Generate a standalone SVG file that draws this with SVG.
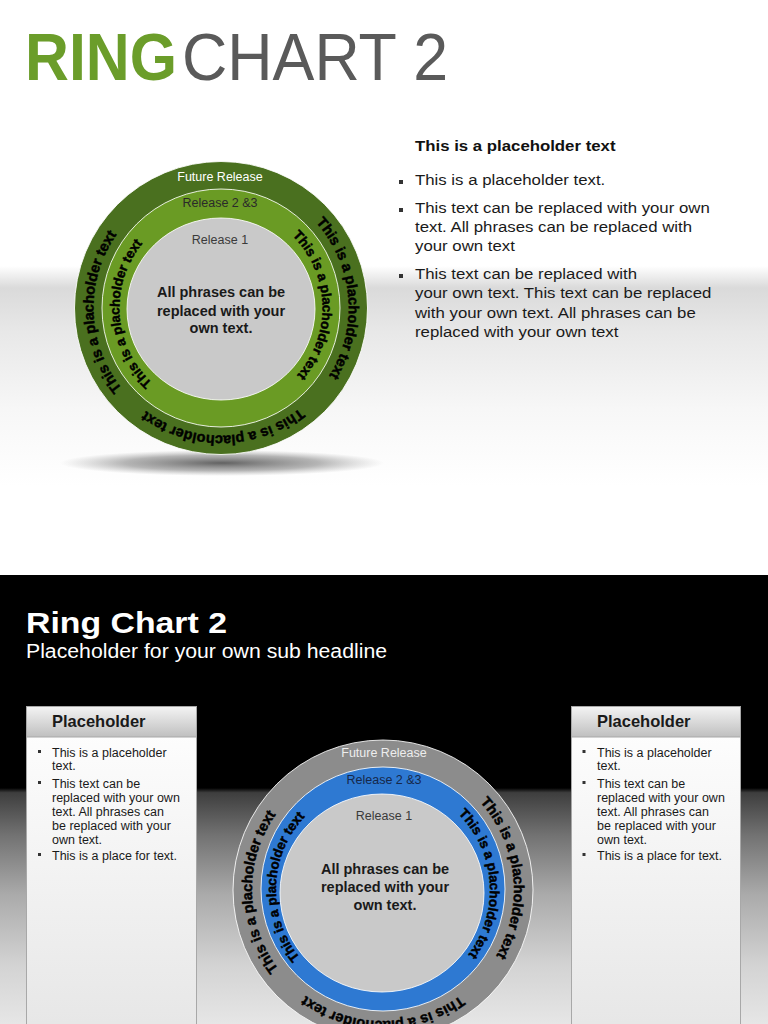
<svg xmlns="http://www.w3.org/2000/svg" width="768" height="1024" viewBox="0 0 768 1024">
<defs>
  <linearGradient id="topBand" x1="0" y1="0" x2="0" y2="1">
    <stop offset="0" stop-color="#ffffff"/>
    <stop offset="0.1" stop-color="#dadada"/>
    <stop offset="0.3" stop-color="#e8e8e8"/>
    <stop offset="0.65" stop-color="#f7f7f7"/>
    <stop offset="1" stop-color="#ffffff"/>
  </linearGradient>
  <linearGradient id="botBand" x1="0" y1="0" x2="0" y2="1">
    <stop offset="0" stop-color="#000000"/>
    <stop offset="0.02" stop-color="#3e3e3e"/>
    <stop offset="0.2" stop-color="#727272"/>
    <stop offset="0.45" stop-color="#aaaaaa"/>
    <stop offset="0.75" stop-color="#d3d3d3"/>
    <stop offset="1" stop-color="#e6e6e6"/>
  </linearGradient>
  <radialGradient id="shadow" cx="0.5" cy="0.5" r="0.5">
    <stop offset="0" stop-color="#505050" stop-opacity="0.9"/>
    <stop offset="0.6" stop-color="#7a7a7a" stop-opacity="0.55"/>
    <stop offset="1" stop-color="#9a9a9a" stop-opacity="0"/>
  </radialGradient>
  <linearGradient id="panelHead" x1="0" y1="0" x2="0" y2="1">
    <stop offset="0" stop-color="#f4f4f4"/>
    <stop offset="1" stop-color="#bfbfbf"/>
  </linearGradient>
  <linearGradient id="panelBody" x1="0" y1="0" x2="0" y2="1">
    <stop offset="0" stop-color="#ffffff"/>
    <stop offset="1" stop-color="#e6e6e6"/>
  </linearGradient>
  <!-- top ring text paths, centre (221,308) -->
  <path id="tOutL" d="M181.6,429.3 A127.5,127.5 0 0 1 173.2,189.8"/>
  <path id="tOutR" d="M254.0,184.8 A127.5,127.5 0 0 1 274.9,423.6"/>
  <path id="tOutB" d="M341.6,349.5 A127.5,127.5 0 0 1 102.0,353.7"/>
  <path id="tMidL" d="M193.0,405.6 A101.5,101.5 0 0 1 179.7,215.3"/>
  <path id="tMidR" d="M252.4,211.5 A101.5,101.5 0 0 1 259.0,402.1"/>
  <!-- bottom ring text paths, centre (383,890) -->
  <path id="bOutL" d="M340.3,1013.9 A131,131 0 0 1 336.1,767.7"/>
  <path id="bOutR" d="M414.7,762.9 A131,131 0 0 1 440.4,1007.7"/>
  <path id="bOutB" d="M506.1,934.8 A131,131 0 0 1 259.9,934.8"/>
  <path id="bMidL" d="M342.9,989.2 A107,107 0 0 1 349.9,788.2"/>
  <path id="bMidR" d="M412.5,787.1 A107,107 0 0 1 426.5,987.7"/>
</defs>
<style>
  text { font-family: "Liberation Sans", Arial, sans-serif; }
  .curveO { font-weight: bold; font-size: 14.5px; fill: #000; stroke: #000; stroke-width: 0.45; }
  .curveM { font-weight: bold; font-size: 13.5px; fill: #000; stroke: #000; stroke-width: 0.45; }
  .lbl { font-size: 12.5px; text-anchor: middle; }
  .centre { font-size: 14.5px; font-weight: bold; fill: #1a1a1a; text-anchor: middle; }
  .body { font-size: 15px; fill: #1a1a1a; }
  .ptext { font-size: 12.5px; fill: #1a1a1a; }
  .phead { font-size: 16.5px; font-weight: bold; fill: #1a1a1a; }
  .edge { fill: none; stroke: #ffffff; stroke-width: 1; stroke-opacity: 0.85; }
</style>

<!-- backgrounds -->
<rect x="0" y="0" width="768" height="575" fill="#ffffff"/>
<rect x="0" y="266" width="768" height="220" fill="url(#topBand)"/>
<rect x="0" y="575" width="768" height="449" fill="#000000"/>
<rect x="0" y="788" width="768" height="236" fill="url(#botBand)"/>

<!-- top title -->
<g id="title-top">
  <text x="25" y="80" font-size="66" font-weight="bold" fill="#6b9d2a" textLength="152" lengthAdjust="spacingAndGlyphs">RING</text>
  <text x="182" y="80" font-size="66" fill="#5a5a5a" textLength="266" lengthAdjust="spacingAndGlyphs">CHART 2</text>
</g>

<!-- top ring -->
<g id="ring-top">
  <ellipse cx="222" cy="463" rx="162" ry="13" fill="url(#shadow)"/>
  <g id="ring-top-outer">
    <circle cx="221" cy="308" r="146.5" fill="#4a701f"/>
    <circle class="edge" cx="221" cy="308" r="146.5" stroke-opacity="0.5"/>
    <text class="lbl" x="220" y="181" fill="#ffffff">Future Release</text>
    <text class="curveO"><textPath href="#tOutL" startOffset="50%" text-anchor="middle">This is a placholder text</textPath></text>
    <text class="curveO"><textPath href="#tOutR" startOffset="50%" text-anchor="middle">This is a placholder text</textPath></text>
    <text class="curveO"><textPath href="#tOutB" startOffset="50%" text-anchor="middle">This is a placholder text</textPath></text>
  </g>
  <g id="ring-top-middle">
    <circle cx="221" cy="308" r="119" fill="#6a9b24"/>
    <circle class="edge" cx="221" cy="308" r="119"/>
    <text class="lbl" x="220" y="207" fill="#2a2a2a">Release 2 &amp;3</text>
    <text class="curveM"><textPath href="#tMidL" startOffset="50%" text-anchor="middle">This is a placholder text</textPath></text>
    <text class="curveM"><textPath href="#tMidR" startOffset="50%" text-anchor="middle">This is a placholder text</textPath></text>
  </g>
  <g id="ring-top-inner">
    <ellipse cx="221" cy="309" rx="94" ry="91" fill="#c9c9c9"/>
    <ellipse class="edge" cx="221" cy="309" rx="94" ry="91"/>
    <text class="lbl" x="220" y="243.5" font-size="12" fill="#3a3a3a">Release 1</text>
    <text class="centre" x="221" y="297">All phrases can be</text>
    <text class="centre" x="221" y="315.5">replaced with your</text>
    <text class="centre" x="221" y="333">own text.</text>
  </g>
</g>

<!-- top right text block -->
<g id="text-top">
  <rect x="399" y="180" width="4" height="4" fill="#333"/>
  <rect x="399" y="208" width="4" height="4" fill="#333"/>
  <rect x="399" y="274" width="4" height="4" fill="#333"/>
  <g transform="translate(415,0) scale(1.12,1)">
    <text x="0" y="151.5" font-size="15" font-weight="bold" fill="#111">This is a placeholder text</text>
    <text class="body" x="0" y="185">This is a placeholder text.</text>
    <text class="body" x="0" y="213">This text can be replaced with your own</text>
    <text class="body" x="0" y="232">text. All phrases can be replaced with</text>
    <text class="body" x="0" y="251">your own text</text>
    <text class="body" x="0" y="279">This text can be replaced with</text>
    <text class="body" x="0" y="298.3">your own text. This text can be replaced</text>
    <text class="body" x="0" y="317.6">with your own text. All phrases can be</text>
    <text class="body" x="0" y="337">replaced with your own text</text>
  </g>
</g>

<!-- bottom title -->
<g id="title-bottom">
  <text x="26" y="633" font-size="30" font-weight="bold" fill="#ffffff" textLength="201" lengthAdjust="spacingAndGlyphs">Ring Chart 2</text>
  <text x="26" y="658" font-size="20" fill="#ffffff" textLength="361" lengthAdjust="spacingAndGlyphs">Placeholder for your own sub headline</text>
</g>

<!-- left panel -->
<g id="panel-left">
  <rect x="26.5" y="706.5" width="170" height="330" fill="url(#panelBody)" stroke="#a8a8a8"/>
  <rect x="26.5" y="706.5" width="170" height="30.5" fill="url(#panelHead)" stroke="#a8a8a8"/>
  <text class="phead" x="52" y="727">Placeholder</text>
  <rect x="38" y="750" width="3" height="3" fill="#333"/>
  <rect x="38" y="781" width="3" height="3" fill="#333"/>
  <rect x="38" y="853" width="3" height="3" fill="#333"/>
  <text class="ptext" x="52" y="756.5">This is a placeholder</text>
  <text class="ptext" x="52" y="770">text.</text>
  <text class="ptext" x="52" y="787.5">This text can be</text>
  <text class="ptext" x="52" y="801.5">replaced with your own</text>
  <text class="ptext" x="52" y="815.5">text. All phrases can</text>
  <text class="ptext" x="52" y="829.5">be replaced with your</text>
  <text class="ptext" x="52" y="843.5">own text.</text>
  <text class="ptext" x="52" y="859.5">This is a place for text.</text>
</g>

<!-- right panel -->
<g id="panel-right">
  <rect x="571.5" y="706.5" width="169" height="330" fill="url(#panelBody)" stroke="#a8a8a8"/>
  <rect x="571.5" y="706.5" width="169" height="30.5" fill="url(#panelHead)" stroke="#a8a8a8"/>
  <text class="phead" x="597" y="727">Placeholder</text>
  <rect x="582.5" y="750" width="3" height="3" fill="#333"/>
  <rect x="582.5" y="781" width="3" height="3" fill="#333"/>
  <rect x="582.5" y="853" width="3" height="3" fill="#333"/>
  <text class="ptext" x="597" y="756.5">This is a placeholder</text>
  <text class="ptext" x="597" y="770">text.</text>
  <text class="ptext" x="597" y="787.5">This text can be</text>
  <text class="ptext" x="597" y="801.5">replaced with your own</text>
  <text class="ptext" x="597" y="815.5">text. All phrases can</text>
  <text class="ptext" x="597" y="829.5">be replaced with your</text>
  <text class="ptext" x="597" y="843.5">own text.</text>
  <text class="ptext" x="597" y="859.5">This is a place for text.</text>
</g>

<!-- bottom ring -->
<g id="ring-bottom">
  <g id="ring-bottom-outer">
    <circle cx="383" cy="890" r="150" fill="#8c8c8c"/>
    <circle class="edge" cx="383" cy="890" r="150"/>
    <text class="lbl" x="384" y="757" fill="#eeeeee">Future Release</text>
    <text class="curveO"><textPath href="#bOutL" startOffset="50%" text-anchor="middle">This is a placholder text</textPath></text>
    <text class="curveO"><textPath href="#bOutR" startOffset="50%" text-anchor="middle">This is a placholder text</textPath></text>
    <text class="curveO"><textPath href="#bOutB" startOffset="50%" text-anchor="middle">This is a placholder text</textPath></text>
  </g>
  <g id="ring-bottom-middle">
    <circle cx="383" cy="889" r="122" fill="#2e79d2"/>
    <circle class="edge" cx="383" cy="889" r="122"/>
    <text class="lbl" x="384" y="784" fill="#16284a">Release 2 &amp;3</text>
    <text class="curveM" font-size="14"><textPath href="#bMidL" startOffset="50%" text-anchor="middle">This is a placholder text</textPath></text>
    <text class="curveM" font-size="14"><textPath href="#bMidR" startOffset="50%" text-anchor="middle">This is a placholder text</textPath></text>
  </g>
  <g id="ring-bottom-inner">
    <ellipse cx="382" cy="893" rx="102" ry="99" fill="#c9c9c9"/>
    <ellipse class="edge" cx="382" cy="893" rx="102" ry="99"/>
    <text class="lbl" x="384" y="820" font-size="12" fill="#3a3a3a">Release 1</text>
    <text class="centre" x="385" y="873.5">All phrases can be</text>
    <text class="centre" x="385" y="892">replaced with your</text>
    <text class="centre" x="385" y="910">own text.</text>
  </g>
</g>

<g id="connectors"/>
</svg>
